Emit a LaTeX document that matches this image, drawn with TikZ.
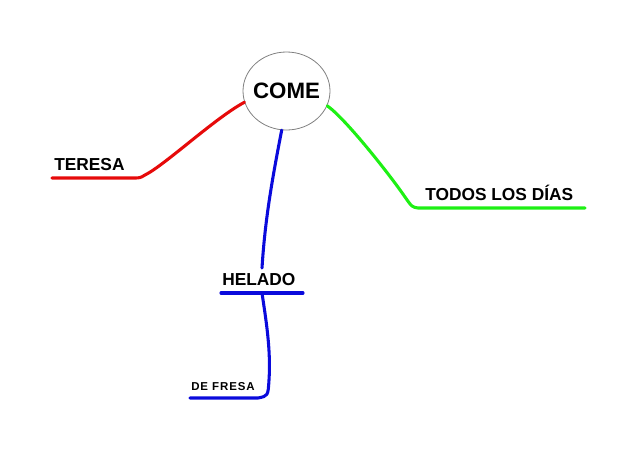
\documentclass[tikz,border=0pt]{standalone}
\usepackage{fontspec}
\setmainfont{Liberation Sans}
\newfontfamily\spaced[LetterSpace=8]{Liberation Sans}
\usetikzlibrary{shapes.geometric}
\tikzset{
  branch/.style={line width=2.3pt, line cap=round, line join=round},
  lbl/.style={inner sep=0pt, font=\bfseries\fontsize{13}{15}\selectfont, anchor=base west},
}
\begin{document}
\begin{tikzpicture}[x=0.75pt,y=-0.75pt]
\useasboundingbox (0,0) rectangle (636,450);
\node[ellipse, draw=gray, line width=0.6pt, minimum width=87*0.75pt, minimum height=78*0.75pt, inner sep=0pt] (come) at (286.5,91) {};
\node[inner sep=0pt, font=\bfseries\fontsize{16.7}{18}\selectfont] (cometext) at (come.center) {COME};
% TERESA
\coordinate (t1) at (52,178);
\coordinate (t2) at (133,178);
\node[lbl] (teresa) at (54,170) {TERESA};
\draw[branch, draw={rgb,255:red,230;green,10;blue,10}] (come.195) .. controls (215,118) and (165,165) .. (145,175) .. controls (140,178) .. (t2) -- (t1);
% TODOS
\coordinate (d1) at (418,208);
\coordinate (d2) at (585,208);
\node[lbl] (todos) at (425,200) {TODOS LOS DÍAS};
\draw[branch, draw={rgb,255:red,30;green,240;blue,20}] (come.-20) .. controls (345,118) and (390,175) .. (405,197) .. controls (412,207) .. (d1) -- (d2);
% HELADO
\coordinate (h1) at (221,293);
\coordinate (h2) at (303,293);
\coordinate (h0) at (262,268);
\node[lbl] (helado) at (222,285) {HELADO};
\draw[branch, draw={rgb,255:red,10;green,10;blue,220}] (come.-97) .. controls (272,180) and (265,220) .. (h0);
\draw[branch, draw={rgb,255:red,10;green,10;blue,220}] (h1) -- (h2);
% DE FRESA
\coordinate (f0) at (262,293);
\coordinate (f1) at (190,398);
\node[inner sep=0pt, anchor=base west, font=\spaced\bfseries\fontsize{8.6}{10}\selectfont] (fresa) at (191,390) {DE FRESA};
\draw[branch, draw={rgb,255:red,10;green,10;blue,220}] (f0) .. controls (266,320) and (271,350) .. (269,380) .. controls (268,396) .. (258,398) -- (f1);
\end{tikzpicture}
\end{document}
